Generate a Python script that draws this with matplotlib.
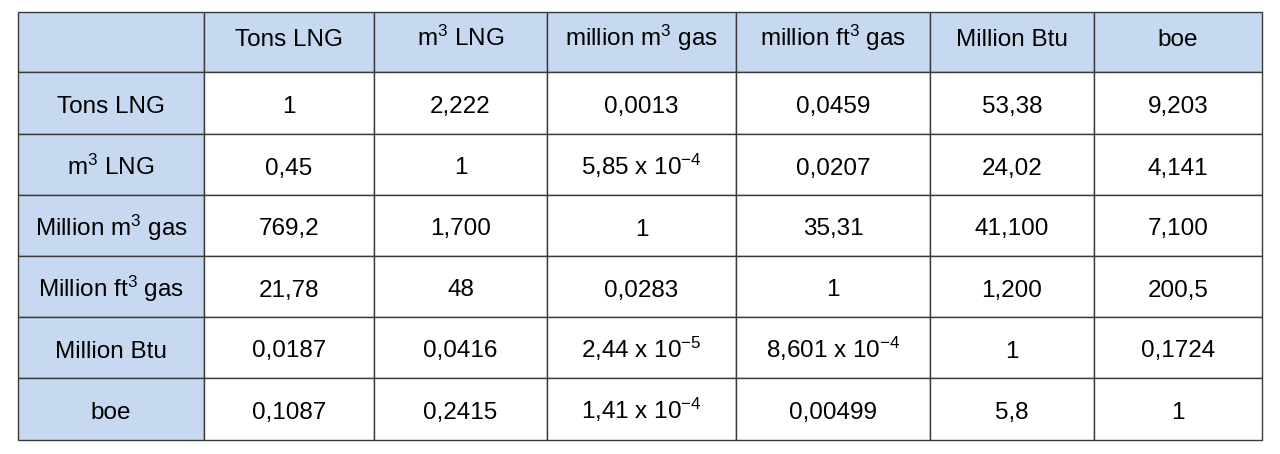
import matplotlib
matplotlib.use("Agg")
import matplotlib.pyplot as plt
from matplotlib.patches import Rectangle

plt.rcParams['font.family'] = ['Liberation Sans', 'DejaVu Sans']
plt.rcParams['mathtext.fontset'] = 'custom'
plt.rcParams['mathtext.rm'] = 'Liberation Sans'
plt.rcParams['mathtext.it'] = 'Liberation Sans'
plt.rcParams['mathtext.default'] = 'regular'

col_headers = ["", "Tons LNG", "m$^3$ LNG", "million m$^3$ gas", "million ft$^3$ gas", "Million Btu", "boe"]
row_headers = ["Tons LNG", "m$^3$ LNG", "Million m$^3$ gas", "Million ft$^3$ gas", "Million Btu", "boe"]
cells = [
    ["1", "2,222", "0,0013", "0,0459", "53,38", "9,203"],
    ["0,45", "1", "5,85 x 10$^{-4}$", "0,0207", "24,02", "4,141"],
    ["769,2", "1,700", "1", "35,31", "41,100", "7,100"],
    ["21,78", "48", "0,0283", "1", "1,200", "200,5"],
    ["0,0187", "0,0416", "2,44 x 10$^{-5}$", "8,601 x 10$^{-4}$", "1", "0,1724"],
    ["0,1087", "0,2415", "1,41 x 10$^{-4}$", "0,00499", "5,8", "1"],
]

xs = [18, 204, 374, 547, 736, 930, 1094, 1262]
ys = [12, 72, 134, 195, 256, 317, 378, 440]
blue = "#c6d9f0"
edge = "#3a3a3a"

fig = plt.figure(figsize=(12.8, 4.54), dpi=100)
ax = fig.add_axes([0, 0, 1, 1])
ax.set_xlim(0, 1280)
ax.set_ylim(454, 0)
ax.axis("off")

nrows = len(row_headers) + 1
ncols = len(col_headers)
for r in range(nrows):
    for c in range(ncols):
        x0, x1 = xs[c], xs[c + 1]
        y0, y1 = ys[r], ys[r + 1]
        fc = blue if (r == 0 or c == 0) else "white"
        ax.add_patch(Rectangle((x0, y0), x1 - x0, y1 - y0, facecolor=fc, edgecolor=edge, lw=1.0))
        if r == 0:
            txt = col_headers[c]
        elif c == 0:
            txt = row_headers[r - 1]
        else:
            txt = cells[r - 1][c - 1]
        by = (y0 + y1) / 2 + (4 if r == 0 else 10)
        ax.text((x0 + x1) / 2, by, txt, ha="center", va="baseline", fontsize=17.5, color="black")

fig.savefig("out.png", dpi=100, facecolor="white")
